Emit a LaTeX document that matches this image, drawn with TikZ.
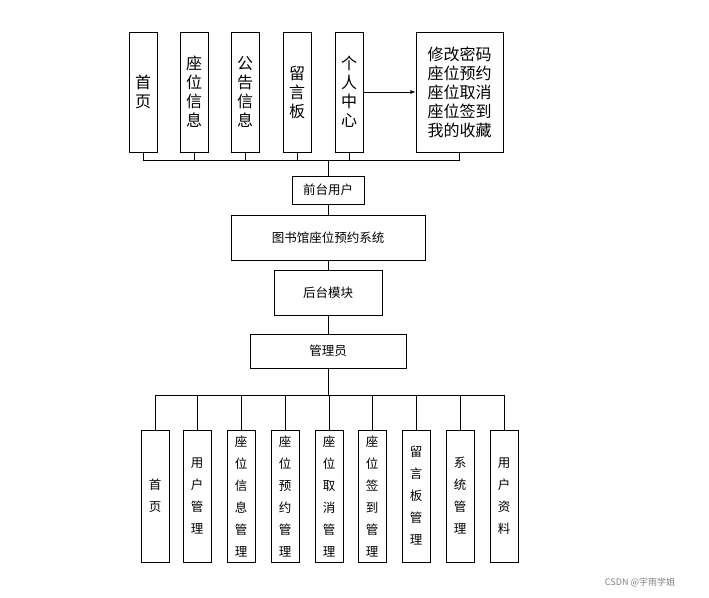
\documentclass[tikz,border=0pt]{standalone}
\usepackage{fontspec}
\setmainfont{Noto Sans CJK SC}
\tikzset{every node/.style={draw,thick,inner sep=0pt,align=center},
  topbox/.style={font=\fontsize{16}{19}\selectfont},
  midbox/.style={font=\fontsize{12.5}{15}\selectfont},
  lowbox/.style={font=\fontsize{12.5}{22}\selectfont,minimum width=28pt,minimum height=132pt}}
\begin{document}
\begin{tikzpicture}[x=1pt,y=-1pt]
\useasboundingbox (0,0) rectangle (709,597);
\path
(143,92) node[topbox,minimum width=28pt,minimum height=120pt](t1){首\\页}
(194,92) node[topbox,minimum width=28pt,minimum height=120pt](t2){座\\位\\信\\息}
(245,92) node[topbox,minimum width=28pt,minimum height=120pt](t3){公\\告\\信\\息}
(297,92) node[topbox,minimum width=28pt,minimum height=120pt](t4){留\\言\\板}
(349,92) node[topbox,minimum width=28pt,minimum height=120pt](t5){个\\人\\中\\心}
(459.5,92) node[topbox,minimum width=87pt,minimum height=120pt](t6){修改密码\\座位预约\\座位取消\\座位签到\\我的收藏}
(328,190) node[midbox,minimum width=72pt,minimum height=28pt](qt){前台用户}
(328,237.5) node[midbox,minimum width=194pt,minimum height=45pt](sys){图书馆座位预约系统}
(328,292.5) node[midbox,minimum width=108pt,minimum height=45pt](ht){后台模块}
(328,351) node[midbox,minimum width=156pt,minimum height=34pt](gl){管理员};
\path
(155,496) node[lowbox](b1){首\\页}
(197,496) node[lowbox](b2){用\\户\\管\\理}
(241,496) node[lowbox](b3){座\\位\\信\\息\\管\\理}
(285,496) node[lowbox](b4){座\\位\\预\\约\\管\\理}
(329,496) node[lowbox](b5){座\\位\\取\\消\\管\\理}
(372,496) node[lowbox](b6){座\\位\\签\\到\\管\\理}
(416,496) node[lowbox](b7){留\\言\\板\\管\\理}
(460,496) node[lowbox](b8){系\\统\\管\\理}
(504,496) node[lowbox](b9){用\\户\\资\\料};
\coordinate (top) at (328,160);
\coordinate (low) at (328,395);
% top tree
\draw (t1.south) |- (t6.south|-top) -- (t6.south);
\foreach \n in {t2,t3,t4,t5} \draw (\n.south) -- (\n.south|-top);
\draw[thick] (top) -- (qt.north);
\draw[-latex,thick] (t5.east) -- (t6.west);
\draw (qt) -- (sys) (sys) -- (ht) (ht) -- (gl) (gl) -- (low);
% lower tree
\draw (b1.north) |- (b9.north|-low) -- (b9.north);
\foreach \n in {b2,b3,b4,b5,b6,b7,b8} \draw (\n.north) -- (\n.north|-low);
\node[draw=none,text=gray,font=\fontsize{9}{10}\selectfont] (mark) at (640,582) {CSDN @宇雨学姐};
\end{tikzpicture}
\end{document}
